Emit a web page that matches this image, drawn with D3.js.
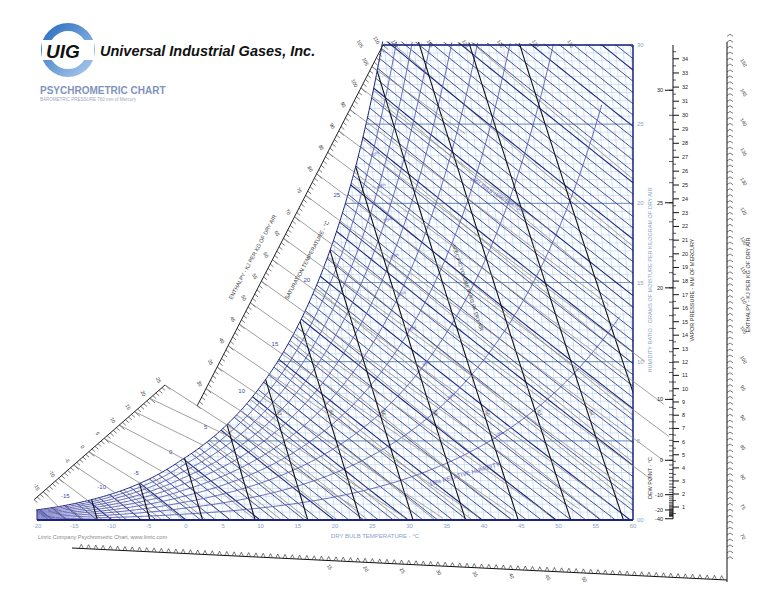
<!DOCTYPE html>
<html><head><meta charset="utf-8">
<script src="https://cdn.jsdelivr.net/npm/d3@7"></script>
<style>body{margin:0;background:#fff}svg{font-family:Arial,"Liberation Sans",sans-serif}</style>
</head><body><svg id="c" width="768" height="592"></svg>
<script>
// ---- data ----
const dryBulbTicks = [-20,-15,-10,-5,0,5,10,15,20,25,30,35,40,45,50,55,60];
const humidityTicks = [0,5,10,15,20,25,30];
const rhCurves = [10,20,30,40,50,60,70,80,90];
const enthalpyLines = d3.range(-20,152,2);
const wetBulbLines = d3.range(-20,36,2);
const volumeLines = [0.74,0.76,0.78,0.80,0.82,0.84,0.86,0.88,0.90,0.92,0.94,0.96];
const satLabels = [-15,-10,-5,0,5,10,15,20,25];
const dewPointTicks = [-40,-20,-10,0,10,20,25,30];
const vaporTicks = d3.range(1,35);
const rightEnthalpyTicks = [70,75,80,85,90,95,100,105,110,115,120,125,130,135,140,145,150];
const bottomEnthalpyTicks = [15,20,25,30,35,40,45,50];

const svg = d3.select("#c");
const x = d3.scaleLinear([-20,60],[37,633]);
const y = d3.scaleLinear([0,30],[520,45]);
const skew = d3.scaleLinear([0,30],[0,40]);
const P = 101.325;
const ps = T => T>=0 ? 0.61094*Math.exp(17.625*T/(T+243.04)) : 0.61115*Math.exp(22.452*T/(272.55+T));
const Ws = (T,phi=1) => 622*phi*ps(T)/(P-phi*ps(T));
const px = (T,W) => [x(T)-skew(W), y(W)];
const line = d3.line();

let Tsat = d3.range(-20,40,0.2).filter(T=>Ws(T)<=30.5);
const satPts = Tsat.map(T=>px(T,Ws(T)));
const clipPts = [[37,520],[37,satPts[0][1]],...satPts,[633,45],[633,520]];
svg.append("clipPath").attr("id","cp").append("path").attr("d",line(clipPts)+"Z");
const g = svg.append("g").attr("clip-path","url(#cp)");

// grid
d3.range(-20,66,1).forEach(T=>g.append("path").attr("d",line([px(T,0),px(T,31)])).attr("stroke","#bcd8f3").attr("stroke-width",0.7).attr("fill","none"));
d3.range(0,30.1,0.5).forEach(W=>g.append("line").attr("x1",30).attr("x2",640).attr("y1",y(W)).attr("y2",y(W)).attr("stroke",W%5==0?"#7f9fc4":"#bcd8f3").attr("stroke-width",W%5==0?1.2:0.7));

// wet bulb lines (gray)
wetBulbLines.forEach(Tw=>{
  const pts=[];
  for(let T=Tw;T<=70;T+=0.5){const W=((2501-2.326*Tw)*Ws(Tw)-1.006*(T-Tw)*1000)/(2501+1.86*T-4.186*Tw);if(W<-0.5)break;pts.push(px(T,W));}
  g.append("path").attr("d",line(pts)).attr("stroke","#8a8a8a").attr("stroke-width",0.9).attr("fill","none");
});
// enthalpy lines (navy)
enthalpyLines.forEach(h=>{
  const pts=d3.range(0,31,0.5).map(W=>px((h-2.501*W)/(1.006+0.00186*W),W));
  g.append("path").attr("d",line(pts)).attr("stroke","#1a237e").attr("stroke-width",h%10==0?1.1:0.8).attr("fill","none");
});
// RH curves
rhCurves.forEach(r=>{
  const pts=d3.range(-20,61,0.5).map(T=>px(T,Ws(T,r/100))).filter(p=>p[1]>30);
  g.append("path").attr("d",line(pts)).attr("stroke","#5b5bb0").attr("stroke-width",0.9).attr("fill","none");
  const T0=d3.range(-20,60,0.5).find(T=>Ws(T,r/100)>=Math.min(3+r/10*2.2,29)); 
  if(T0!==undefined){const p=px(T0,Ws(T0,r/100));g.append("text").attr("x",p[0]).attr("y",p[1]).attr("font-size",4.5).attr("fill","#5b5bb0").attr("transform",`rotate(-25 ${p[0]} ${p[1]})`).text(r+"%");}
});
// volume lines
volumeLines.forEach(v=>{
  const pts=d3.range(0,31,0.5).map(W=>px(v*P/(0.287*(1+1.6078*W/1000))-273.15,W));
  g.append("path").attr("d",line(pts)).attr("stroke","#111").attr("stroke-width",1.1).attr("fill","none");
  const m=pts[14]; g.append("text").attr("x",m[0]+2).attr("y",m[1]).attr("font-size",5).attr("fill","#333").attr("transform",`rotate(75 ${m[0]+2} ${m[1]})`).text(v.toFixed(2).slice(1));
});
g.append("text").attr("x",430).attr("y",486).attr("font-size",6).attr("fill","#5b5bb0").attr("transform","rotate(-16 430 486)").text("10% RELATIVE HUMIDITY");
g.append("text").attr("x",470).attr("y",180).attr("font-size",5).attr("fill","#5b5bb0").attr("transform","rotate(32 470 180)").text("WET BULB TEMPERATURE");
g.append("text").attr("x",452).attr("y",245).attr("font-size",5).attr("fill","#333").attr("transform","rotate(72 452 245)").text("SPECIFIC VOLUME M³/KG OF DRY AIR");

svg.append("path").attr("d",line(satPts)).attr("stroke","#1a237e").attr("stroke-width",1).attr("fill","none");
svg.append("line").attr("x1",37).attr("x2",633).attr("y1",520).attr("y2",520).attr("stroke","#1a237e").attr("stroke-width",2);
svg.append("line").attr("x1",633).attr("x2",633).attr("y1",45).attr("y2",520).attr("stroke","#1a237e").attr("stroke-width",1.5);
svg.append("line").attr("x1",satPts[satPts.length-1][0]).attr("x2",633).attr("y1",45).attr("y2",45).attr("stroke","#1a237e").attr("stroke-width",1.5);
svg.append("line").attr("x1",37).attr("x2",37).attr("y1",satPts[0][1]).attr("y2",520).attr("stroke","#1a237e").attr("stroke-width",1);

satLabels.forEach(T=>{const p=px(T,Ws(T));svg.append("text").attr("x",p[0]-12).attr("y",p[1]-6).attr("font-size",6).attr("fill","#3949ab").text(T);});

// left enthalpy scale
function scalePt(h){
  if(h<=25){const t=(h+20)/45;return [28+t*(165-28),505+t*(385-505)];}
  const t=(h-25)/85;return [195+t*(383-195),410+t*(45-410)];
}
d3.range(-18,111,1).forEach(h=>{
  const p=scalePt(h), big=h%5==0, d=big?7:4.5;
  svg.append("line").attr("x1",p[0]).attr("y1",p[1]).attr("x2",p[0]+d*0.75).attr("y2",p[1]+d*0.65).attr("stroke","#222").attr("stroke-width",0.6);
  if(big){
    svg.append("text").attr("x",p[0]-8).attr("y",p[1]-4).attr("font-size",5).attr("fill","#333").attr("text-anchor","middle").attr("transform",`rotate(62 ${p[0]-8} ${p[1]-4})`).text(h);
    let T=(h-2.501*5)/1.015, W=0;
    for(let i=0;i<30;i++){W=Math.min(Ws(T),30);T=(h-2.501*W)/(1.006+0.00186*W);}
    const q=px(T,W);
    if(W<30) svg.append("line").attr("x1",p[0]).attr("y1",p[1]).attr("x2",q[0]).attr("y2",q[1]).attr("stroke","#888").attr("stroke-width",0.8);
  }
});
svg.append("path").attr("d",line([scalePt(-18),scalePt(25)])).attr("stroke","#222");
svg.append("path").attr("d",line([scalePt(26),scalePt(110)])).attr("stroke","#222");
svg.append("text").attr("x",232).attr("y",300).attr("font-size",5.5).attr("fill","#333").attr("transform","rotate(-62 232 300)").text("ENTHALPY - KJ PER KG OF DRY AIR");
svg.append("text").attr("x",288).attr("y",300).attr("font-size",5.5).attr("fill","#333").attr("transform","rotate(-62 288 300)").text("SATURATION TEMPERATURE - °C");

[105,110,115,120,125,130,135].forEach(h=>{const p=px((h-75)/1.062,30);svg.append("text").attr("x",p[0]).attr("y",41).attr("font-size",5).attr("fill","#333").attr("transform",`rotate(60 ${p[0]} 41)`).text(h);});

svg.append("g").selectAll("text").data(dryBulbTicks).join("text").attr("x",d=>x(d)).attr("y",528).attr("text-anchor","middle").attr("font-size",6).attr("fill","#8aa4c8").text(d=>d);
svg.append("text").attr("x",375).attr("y",538).attr("text-anchor","middle").attr("font-size",6).attr("fill","#8aa4c8").text("DRY BULB TEMPERATURE - °C");
svg.append("text").attr("x",38).attr("y",539).attr("font-size",5.5).attr("fill","#888").text("Linric Company Psychrometric Chart, www.linric.com");
svg.append("g").selectAll("text").data(humidityTicks).join("text").attr("x",637).attr("y",d=>y(d)+2).attr("font-size",6).attr("fill","#8aa4c8").text(d=>d==0?"00":d);
svg.append("text").attr("x",652).attr("y",280).attr("font-size",5.5).attr("fill","#8aa4c8").attr("text-anchor","middle").attr("transform","rotate(-90 652 280)").text("HUMIDITY RATIO - GRAMS OF MOISTURE PER KILOGRAM OF DRY AIR");

const ax=673;
svg.append("line").attr("x1",ax).attr("x2",ax).attr("y1",45).attr("y2",519).attr("stroke","#111");
dewPointTicks.forEach(t=>{const yy=y(Ws(t));svg.append("line").attr("x1",ax-8).attr("x2",ax).attr("y1",yy).attr("y2",yy).attr("stroke","#111");svg.append("text").attr("x",ax-10).attr("y",yy+2).attr("text-anchor","end").attr("font-size",5.5).attr("fill","#222").text(t);});
d3.range(-30,31,1).forEach(t=>{const yy=y(Ws(t));svg.append("line").attr("x1",ax-4).attr("x2",ax).attr("y1",yy).attr("y2",yy).attr("stroke","#111").attr("stroke-width",0.7);});
vaporTicks.forEach(p=>{const yy=y(622*p/(760-p));svg.append("line").attr("x1",ax).attr("x2",ax+6).attr("y1",yy).attr("y2",yy).attr("stroke","#111");svg.append("text").attr("x",ax+9).attr("y",yy+2).attr("font-size",5.5).attr("fill","#222").text(p);});
d3.range(0.5,35,1).forEach(p=>{const yy=y(622*p/(760-p));svg.append("line").attr("x1",ax).attr("x2",ax+3).attr("y1",yy).attr("y2",yy).attr("stroke","#111").attr("stroke-width",0.7);});
svg.append("text").attr("x",652).attr("y",478).attr("font-size",5.5).attr("fill","#333").attr("text-anchor","middle").attr("transform","rotate(-90 652 478)").text("DEW POINT - °C");
svg.append("text").attr("x",694).attr("y",290).attr("font-size",5.5).attr("fill","#333").attr("text-anchor","middle").attr("transform","rotate(-90 694 290)").text("VAPOR PRESSURE - MM OF MERCURY");

const hy=d3.scaleLinear([150,70],[60,535]);
svg.append("line").attr("x1",727).attr("x2",727).attr("y1",42).attr("y2",582).attr("stroke","#111");
d3.range(66,155,1).forEach(h=>{const yy=hy(h);if(yy<582)svg.append("path").attr("d",line([[727,yy],[730,yy-2],[733,yy]])).attr("stroke","#222").attr("stroke-width",0.6).attr("fill","none");});
rightEnthalpyTicks.forEach(h=>svg.append("text").attr("x",740).attr("y",hy(h)).attr("font-size",5).attr("fill","#333").attr("transform",`rotate(60 740 ${hy(h)})`).text(h));
svg.append("text").attr("x",750).attr("y",285).attr("font-size",5.5).attr("fill","#333").attr("text-anchor","middle").attr("transform","rotate(-90 750 285)").text("ENTHALPY - KJ PER KG OF DRY AIR");

// bottom enthalpy scale
const bs=d3.scaleLinear([-20,70],[0,1]);
const bp=h=>{const t=bs(h);return [72+t*(727-72),548+t*(580-548)];};
svg.append("path").attr("d",line([bp(-20),bp(70)])).attr("stroke","#111");
d3.range(-19,70,1).forEach(h=>{const p=bp(h);svg.append("path").attr("d",line([p,[p[0]+2,p[1]-4],[p[0]+4,p[1]]])).attr("stroke","#222").attr("stroke-width",0.6).attr("fill","none");});
bottomEnthalpyTicks.forEach(h=>{const p=bp(h);svg.append("text").attr("x",p[0]).attr("y",p[1]+5).attr("font-size",5).attr("fill","#333").attr("transform",`rotate(60 ${p[0]} ${p[1]+5})`).text(h);});

// logo
const lg=svg.append("g");
const gr=svg.append("defs").append("linearGradient").attr("id","rg").attr("x1",0).attr("y1",0).attr("x2",1).attr("y2",1);
gr.append("stop").attr("offset",0).attr("stop-color","#2c6fc2");gr.append("stop").attr("offset",1).attr("stop-color","#a9c8ea");
lg.append("circle").attr("cx",68).attr("cy",50).attr("r",23).attr("fill","none").attr("stroke","url(#rg)").attr("stroke-width",8);
lg.append("rect").attr("x",42).attr("y",40).attr("width",52).attr("height",20).attr("fill","#fff");
lg.append("text").attr("x",46).attr("y",58).attr("font-size",19).attr("font-weight","bold").attr("font-style","italic").attr("fill","#111").text("UIG");
lg.append("text").attr("x",100).attr("y",56).attr("font-size",14.5).attr("font-weight","bold").attr("font-style","italic").attr("fill","#111").text("Universal Industrial Gases, Inc.");
lg.append("text").attr("x",40).attr("y",94).attr("font-size",10).attr("font-weight","bold").attr("fill","#7f93bd").text("PSYCHROMETRIC CHART");
lg.append("text").attr("x",40).attr("y",101).attr("font-size",4.5).attr("fill","#9aa8c4").text("BAROMETRIC PRESSURE 760 mm of Mercury");
</script></body></html>
